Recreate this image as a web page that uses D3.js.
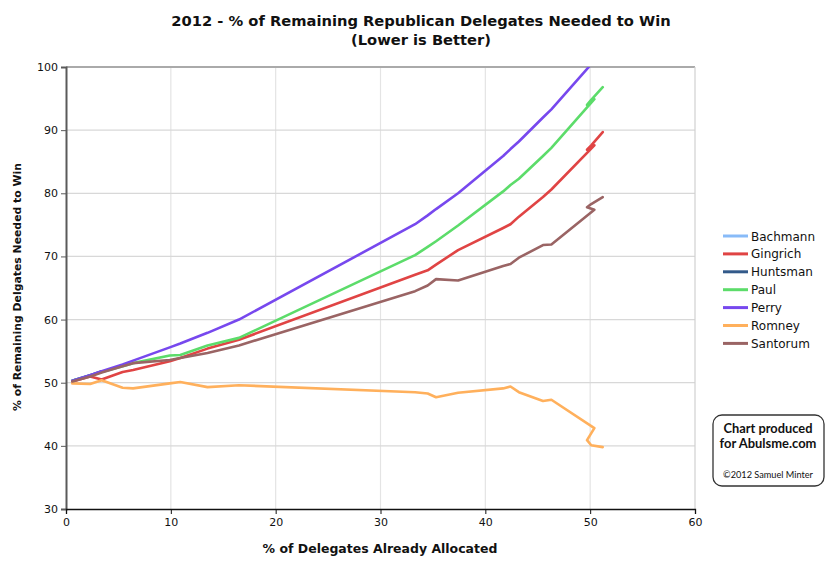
<!DOCTYPE html>
<html>
<head>
<meta charset="utf-8">
<script src="https://cdn.jsdelivr.net/npm/d3@7"></script>
<style>
  body { margin: 0; background: #fff; }
  svg { display: block; }
</style>
</head>
<body>
<div id="Chart_Part"></div>
<script>
// % of delegates already allocated at each update
var allocated = [0.6, 2.3, 3.4, 5.4, 6.4, 9.9, 10.9, 13.5, 16.5, 33.3, 34.5, 35.3, 37.4, 41.7, 42.4, 43.2, 45.5, 46.3, 50.4, 49.7, 50.1, 51.2];

// % of remaining delegates needed to win, per candidate (null = no longer plotted)
var bachmann = [50.3, 51.2, null, null, null, null, null, null, null, null, null, null, null, null, null, null, null, null, null, null, null, null];
var gingrich = [50.2, 51.0, 50.5, 51.7, 52.0, 53.4, 53.9, 55.4, 56.8, 67.1, 67.8, 68.7, 71.0, 74.5, 75.1, 76.3, 79.4, 80.6, 87.6, 86.9, 87.6, 89.7];
var huntsman = [50.3, 51.2, 51.8, null, null, null, null, null, null, null, null, null, null, null, null, null, null, null, null, null, null, null];
var paul     = [50.3, 51.1, 51.7, 52.6, 53.1, 54.3, 54.4, 55.9, 57.1, 70.2, 71.5, 72.4, 74.9, 80.3, 81.3, 82.3, 85.9, 87.2, 94.9, 94.0, 94.8, 96.8];
var perry    = [50.3, 51.2, 51.8, 52.9, 53.5, 55.6, 56.2, 57.9, 60.0, 75.1, 76.5, 77.5, 80.0, 85.9, 87.0, 88.2, 92.0, 93.3, 101.0, null, null, null];
var romney   = [49.9, 49.8, 50.4, 49.2, 49.1, 49.9, 50.1, 49.3, 49.6, 48.5, 48.3, 47.7, 48.4, 49.1, 49.4, 48.5, 47.1, 47.3, 42.8, 40.9, 40.1, 39.8];
var santorum = [50.2, 51.0, 51.6, 52.6, 53.1, 53.6, 53.9, 54.7, 55.9, 64.5, 65.4, 66.4, 66.2, 68.5, 68.8, 69.8, 71.8, 71.9, 77.4, 77.8, 78.3, 79.4];

var candidateNames = ["Bachmann", "Gingrich", "Huntsman", "Paul", "Perry", "Romney", "Santorum"];
var candidateColors = ["#88bbf8", "#e04444", "#335a8a", "#5cdc6a", "#7748ee", "#ffb05c", "#9a6464"];
var candidateValues = [bachmann, gingrich, huntsman, paul, perry, romney, santorum];

var xTicks = [0, 10, 20, 30, 40, 50, 60];
var yTicks = [30, 40, 50, 60, 70, 80, 90, 100];

var TitleLine1 = "2012 - % of Remaining Republican Delegates Needed to Win";
var TitleLine2 = "(Lower is Better)";
var XTitle = "% of Delegates Already Allocated";
var YTitle = "% of Remaining Delgates Needed to Win";

var windowWidth = 837, windowHeight = 566;
var PlotLeft = 66, PlotRight = 695, PlotTop = 67, PlotBottom = 509;

var svg = d3.select('#Chart_Part')
	.append("svg")
	.attr("width", windowWidth)
	.attr("height", windowHeight);

svg.append("rect")
	.attr("width", windowWidth)
	.attr("height", windowHeight)
	.style("fill", "white");

var x = d3.scaleLinear().domain([0, 60]).range([PlotLeft, PlotRight]);
var y = d3.scaleLinear().domain([30, 100]).range([PlotBottom, PlotTop]);

// shrink or grow a text's font so that it fills the wanted width
function FitText(TextNode, WantedWidth, StartSize)
{
	TextNode.style("font-size", StartSize + "px");
	var len = TextNode.node().getComputedTextLength();
	if (len > 0)
	{
		TextNode.style("font-size", (StartSize * WantedWidth / len) + "px");
	}
	return TextNode;
}

// gridlines
svg.append("g")
	.selectAll("line")
	.data(xTicks.filter(function(d){ return d > 0 && d < 60; }))
	.enter()
	.append("line")
	.attr("x1", function(d){ return x(d); })
	.attr("x2", function(d){ return x(d); })
	.attr("y1", y(30))
	.attr("y2", y(100))
	.style("stroke", "#e4e4e4")
	.style("stroke-width", 1.2);

svg.append("g")
	.selectAll("line")
	.data(yTicks.filter(function(d){ return d > 30 && d < 100; }))
	.enter()
	.append("line")
	.attr("x1", x(0))
	.attr("x2", x(60))
	.attr("y1", function(d){ return y(d); })
	.attr("y2", function(d){ return y(d); })
	.style("stroke", "#d8d8d8")
	.style("stroke-width", 1.2);

// frame top and right
svg.append("line")
	.attr("x1", x(0)).attr("x2", x(60))
	.attr("y1", y(100)).attr("y2", y(100))
	.style("stroke", "#aaaaaa")
	.style("stroke-width", 2);

svg.append("line")
	.attr("x1", x(60)).attr("x2", x(60))
	.attr("y1", y(100)).attr("y2", y(30))
	.style("stroke", "#d0d0d0")
	.style("stroke-width", 1.2);

// clip for lines running above 100
svg.append("clipPath")
	.attr("id", "PlotClip")
	.append("rect")
	.attr("x", x(0))
	.attr("y", y(100))
	.attr("width", x(60) - x(0))
	.attr("height", y(30) - y(100));

var line = d3.line()
	.defined(function(d){ return d[1] != null; })
	.x(function(d){ return x(d[0]); })
	.y(function(d){ return y(d[1]); });

var LinesPart = svg.append("g").attr("clip-path", "url(#PlotClip)");

candidateValues.forEach(function(values, i)
{
	var points = allocated.map(function(a, j){ return [a, values[j]]; });
	LinesPart.append("path")
		.datum(points)
		.attr("d", line)
		.style("fill", "none")
		.style("stroke", candidateColors[i])
		.style("stroke-width", 2.6)
		.style("stroke-linejoin", "round")
		.style("stroke-linecap", "round");
});

// axes
var yAxis = svg.append("g")
	.attr("transform", "translate(" + x(0) + ",0)")
	.call(d3.axisLeft(y).tickValues(yTicks).tickSize(5).tickPadding(3).tickFormat(d3.format("d")));

var xAxis = svg.append("g")
	.attr("transform", "translate(0," + y(30) + ")")
	.call(d3.axisBottom(x).tickValues(xTicks).tickSize(5).tickPadding(4).tickFormat(d3.format("d")));

yAxis.select(".domain").style("stroke", "#5a5a5a").style("stroke-width", 2);
yAxis.selectAll(".tick line").style("stroke", "#5a5a5a");
xAxis.select(".domain").style("stroke", "#111").style("stroke-width", 1.3);
xAxis.selectAll(".tick line").style("stroke", "#111");

svg.selectAll(".tick text")
	.style("font-family", "'DejaVu Sans', Verdana, sans-serif")
	.style("font-size", "11px")
	.style("fill", "#111");

// titles
var Title1 = svg.append("text")
	.attr("x", 421).attr("y", 26)
	.attr("text-anchor", "middle")
	.style("font-family", "'DejaVu Sans', Verdana, sans-serif")
	.style("font-weight", "bold")
	.style("fill", "#111")
	.text(TitleLine1);
FitText(Title1, 500, 14);

var Title2 = svg.append("text")
	.attr("x", 421).attr("y", 45)
	.attr("text-anchor", "middle")
	.style("font-family", "'DejaVu Sans', Verdana, sans-serif")
	.style("font-weight", "bold")
	.style("fill", "#111")
	.text(TitleLine2);
FitText(Title2, 140, 14);

var XTitleText = svg.append("text")
	.attr("x", 380).attr("y", 553)
	.attr("text-anchor", "middle")
	.style("font-family", "'DejaVu Sans', Verdana, sans-serif")
	.style("font-weight", "bold")
	.style("fill", "#111")
	.text(XTitle);
FitText(XTitleText, 235, 13);

var YTitleText = svg.append("text")
	.attr("transform", "translate(21,287) rotate(-90)")
	.attr("text-anchor", "middle")
	.style("font-family", "'DejaVu Sans', Verdana, sans-serif")
	.style("font-weight", "bold")
	.style("fill", "#111")
	.text(YTitle);
FitText(YTitleText, 248, 13);

// legend
var Legend = svg.append("g")
	.selectAll("g")
	.data(candidateNames)
	.enter()
	.append("g")
	.attr("transform", function(d, i){ return "translate(723," + (236 + i * 17.9) + ")"; });

Legend.append("line")
	.attr("x1", 0).attr("x2", 25)
	.attr("y1", 0).attr("y2", 0)
	.style("stroke", function(d, i){ return candidateColors[i]; })
	.style("stroke-width", 3);

Legend.append("text")
	.attr("x", 28)
	.attr("y", 4.5)
	.text(function(d){ return d; })
	.style("font-family", "'DejaVu Sans', Verdana, sans-serif")
	.style("font-size", "12px")
	.style("fill", "#111");

// credit box
svg.append("rect")
	.attr("x", 713).attr("y", 415)
	.attr("width", 111).attr("height", 71)
	.attr("rx", 9).attr("ry", 9)
	.style("fill", "white")
	.style("stroke", "#333")
	.style("stroke-width", 1.3);

var Credit1 = svg.append("text")
	.attr("x", 768).attr("y", 433)
	.attr("text-anchor", "middle")
	.style("font-family", "Lato, 'Open Sans', sans-serif")
	.style("font-weight", "bold")
	.style("fill", "#111")
	.text("Chart produced");
FitText(Credit1, 89, 13);

var Credit2 = svg.append("text")
	.attr("x", 768).attr("y", 448)
	.attr("text-anchor", "middle")
	.style("font-family", "Lato, 'Open Sans', sans-serif")
	.style("font-weight", "bold")
	.style("fill", "#111")
	.text("for Abulsme.com");
FitText(Credit2, 97, 13);

var Credit3 = svg.append("text")
	.attr("x", 768).attr("y", 478)
	.attr("text-anchor", "middle")
	.style("font-family", "Lato, 'Open Sans', sans-serif")
	.style("fill", "#111")
	.text("\u00a92012 Samuel Minter");
FitText(Credit3, 90, 9);
</script>
</body>
</html>
